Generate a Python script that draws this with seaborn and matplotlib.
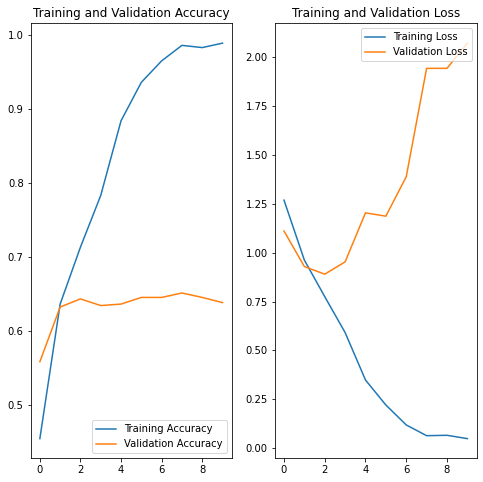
import numpy as np
import pandas as pd
import seaborn as sns
import matplotlib
matplotlib.use("Agg")
import matplotlib.pyplot as plt

# values
epochs = list(range(10))
train_acc = [0.454, 0.636, 0.713, 0.783, 0.884, 0.936, 0.965, 0.986, 0.983, 0.989]
val_acc = [0.558, 0.632, 0.643, 0.634, 0.636, 0.645, 0.645, 0.651, 0.645, 0.638]
train_loss = [1.269, 0.962, 0.775, 0.591, 0.348, 0.220, 0.118, 0.063, 0.065, 0.048]
val_loss = [1.111, 0.929, 0.890, 0.953, 1.204, 1.187, 1.389, 1.944, 1.944, 2.073]

fig = plt.figure(figsize=(483 / 72, 482 / 72), dpi=72)
ax1 = fig.add_axes([0.0636, 0.049, 0.416, 0.9025])
ax2 = fig.add_axes([0.569, 0.049, 0.4176, 0.9025])

# Accuracy panel
sns.lineplot(x=epochs, y=train_acc, ax=ax1, label="Training Accuracy", color="tab:blue")
sns.lineplot(x=epochs, y=val_acc, ax=ax1, label="Validation Accuracy", color="tab:orange")
ax1.legend(loc="lower right")
ax1.set_title("Training and Validation Accuracy")

# Loss panel
sns.lineplot(x=epochs, y=train_loss, ax=ax2, label="Training Loss", color="tab:blue")
sns.lineplot(x=epochs, y=val_loss, ax=ax2, label="Validation Loss", color="tab:orange")
ax2.legend(loc="upper right")
ax2.set_title("Training and Validation Loss")

fig.savefig("out.png", dpi=72)
